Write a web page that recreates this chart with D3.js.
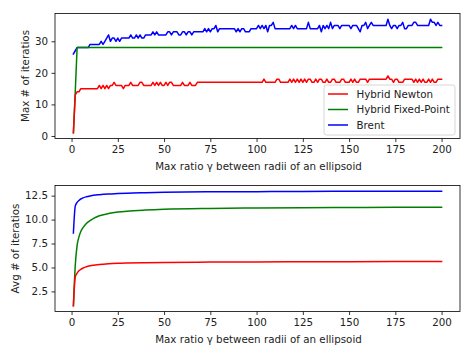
<!DOCTYPE html>
<html>
<head>
<meta charset="utf-8">
<script src="https://cdn.jsdelivr.net/npm/d3@7"></script>
<style>
html,body{margin:0;padding:0;background:#fff;}
svg{display:block;font-family:"DejaVu Sans",sans-serif;}
</style>
</head>
<body>
<svg id="chart" width="474" height="355"></svg>
<script>
// ---------- DATA ----------
const seriesNames = ["Hybrid Newton", "Hybrid Fixed-Point", "Brent"];
const seriesColors = ["#ff0000", "#008000", "#0000ff"];

// x values (max ratio gamma) for the top panel, 1..200
const gammaAll = d3.range(1, 201);

const newtonMax = [
  1,13,14,14,15,15,15,15,15,15,
  15,15,15,15,16,15,16,15,16,15,
  16,16,17,16,16,16,16,15,16,16,
  16,17,16,16,16,16,17,17,16,16,
  16,16,16,17,16,17,16,17,16,16,
  17,16,17,17,16,16,16,16,16,17,
  16,16,16,17,16,16,16,17,17,17,
  17,17,17,17,17,17,17,17,17,17,
  17,17,17,17,17,17,17,17,17,17,
  17,17,17,17,17,17,17,17,17,17,
  17,17,17,18,17,17,17,17,17,17,
  18,18,17,17,17,17,17,18,17,18,
  17,18,17,18,17,18,17,18,18,17,
  17,18,17,18,18,17,17,18,17,17,
  18,18,17,17,17,18,18,17,17,17,
  18,17,18,17,17,18,18,18,18,17,
  18,18,18,18,18,18,18,18,18,18,
  19,18,18,17,18,18,17,17,17,18,
  18,18,18,18,17,18,17,18,17,18,
  17,17,18,17,18,17,17,18,18,18
];

const brentMax = [
  26,27,28,28,28,28,28,28,28,29,
  29,29,29,29,29,30,29,30,31,32,
  30,31,31,30,31,30,31,31,31,31,
  31,32,31,31,32,31,32,31,31,32,
  32,32,32,33,32,33,32,32,32,32,
  32,33,33,32,33,33,33,32,32,33,
  33,32,33,33,32,33,33,33,33,33,
  33,34,33,34,33,34,34,35,33,34,
  34,34,34,34,34,34,34,34,33,34,
  33,34,34,33,33,33,34,34,34,34,
  35,34,35,34,35,33,35,35,36,34,
  34,34,34,34,34,34,34,34,35,34,
  35,34,34,34,34,34,34,36,34,34,
  34,34,34,35,33,35,34,35,34,36,
  34,35,35,35,34,35,35,35,35,35,
  34,35,35,35,34,33,35,35,36,34,
  35,36,35,35,35,35,35,35,35,35,
  37,35,34,35,35,34,35,35,36,34,
  34,35,35,35,36,36,35,35,35,35,
  35,35,35,37,36,36,35,36,35,35
];

// Fixed-point max is a flat line after gamma=3: vertices only
const fixedGamma = [1, 2, 3, 200];
const fixedMax = [1, 14, 28, 28];

// bottom panel: averages read at selected gamma values
const avgGamma = [1,2,3,4,5,6,8,10,15,20,25,30,40,50,75,100,125,150,175,200];
const newtonAvg = [1.0,4.0,4.4,4.65,4.8,4.92,5.07,5.17,5.3,5.38,5.43,5.46,5.5,5.53,5.56,5.58,5.59,5.6,5.61,5.62];
const fixedAvg  = [1.0,5.2,7.3,8.2,8.75,9.1,9.6,9.9,10.4,10.63,10.78,10.88,11.0,11.08,11.17,11.21,11.24,11.26,11.28,11.29];
const brentAvg  = [8.6,11.4,11.8,12.0,12.15,12.25,12.38,12.47,12.6,12.68,12.72,12.76,12.81,12.85,12.9,12.92,12.94,12.95,12.96,12.97];

const xTicks = [0,25,50,75,100,125,150,175,200];
const yTicksTop = [0,10,20,30];
const yTicksBottom = [2.5,5.0,7.5,10.0,12.5];

const xLabel = "Max ratio \u03b3 between radii of an ellipsoid";
const yLabelTop = "Max # of iteratios";
const yLabelBottom = "Avg # of iteratios";

// ---------- DRAW ----------
const svg = d3.select("#chart");
const FS = 10.3;
const TXT = "#222";
const L = 55, R = 460;

const x = d3.scaleLinear().domain([-8.95, 209.95]).range([L, R]);

function panel(pTop, pBottom, yDomain, yTicks, yFmt, lines, yLabel, yLabelX) {
  const g = svg.append("g");
  const y = d3.scaleLinear().domain(yDomain).range([pBottom, pTop]);

  const clipId = "clip" + Math.round(pTop);
  svg.append("clipPath").attr("id", clipId)
    .append("rect").attr("x", L).attr("y", pTop).attr("width", R - L).attr("height", pBottom - pTop);

  const lg = g.append("g").attr("clip-path", `url(#${clipId})`);
  lines.forEach(s => {
    const pts = s.xs.map((xv, i) => [xv, s.ys[i]]);
    lg.append("path")
      .attr("d", d3.line().x(d => x(d[0])).y(d => y(d[1])).curve(s.curve || d3.curveLinear)(pts))
      .attr("fill", "none")
      .attr("stroke", s.color)
      .attr("stroke-width", 1.5)
      .attr("stroke-linejoin", "round")
      .attr("stroke-linecap", "square");
  });

  // frame
  g.append("rect").attr("x", L).attr("y", pTop).attr("width", R - L).attr("height", pBottom - pTop)
    .attr("fill", "none").attr("stroke", "#000").attr("stroke-width", 0.8);

  const xa = g.append("g").attr("transform", `translate(0,${pBottom})`)
    .call(d3.axisBottom(x).tickValues(xTicks).tickSize(3.5).tickPadding(4).tickFormat(d3.format("d")));
  const ya = g.append("g").attr("transform", `translate(${L},0)`)
    .call(d3.axisLeft(y).tickValues(yTicks).tickSize(3.5).tickPadding(3.5).tickFormat(yFmt));
  [xa, ya].forEach(a => {
    a.select(".domain").remove();
    a.selectAll("line").attr("stroke", "#000").attr("stroke-width", 0.8);
    a.selectAll("text").attr("fill", TXT).style("font-size", FS + "px").style("font-family", "DejaVu Sans");
  });

  g.append("text").attr("x", (L + R) / 2 + 1).attr("y", pBottom + 31)
    .attr("text-anchor", "middle").attr("fill", TXT).style("font-size", FS + "px")
    .text(xLabel);
  g.append("text")
    .attr("transform", `translate(${yLabelX},${(pTop + pBottom) / 2}) rotate(-90)`)
    .attr("text-anchor", "middle").attr("fill", TXT).style("font-size", FS + "px")
    .text(yLabel);
  return {g, y};
}

// top panel (draw order: Brent, Fixed-Point, Newton)
const topPanel = panel(13.5, 138.5, [-0.8, 38.8], yTicksTop, d3.format("d"), [
  {xs: gammaAll, ys: brentMax, color: seriesColors[2]},
  {xs: fixedGamma, ys: fixedMax, color: seriesColors[1]},
  {xs: gammaAll, ys: newtonMax, color: seriesColors[0]}
], yLabelTop, 28.5);

// legend
const leg = topPanel.g.append("g");
leg.append("rect").attr("x", 324).attr("y", 85).attr("width", 131).attr("height", 50)
  .attr("rx", 2.5).attr("fill", "#fff").attr("fill-opacity", 0.8)
  .attr("stroke", "#cccccc").attr("stroke-width", 0.8);
const rowY = [94, 109.5, 125];
seriesNames.forEach((n, i) => {
  leg.append("line").attr("x1", 328).attr("x2", 348).attr("y1", rowY[i]).attr("y2", rowY[i])
    .attr("stroke", seriesColors[i]).attr("stroke-width", 1.5);
  leg.append("text").attr("x", 356.5).attr("y", rowY[i]).attr("dy", "0.36em")
    .attr("fill", TXT).style("font-size", FS + "px").text(n);
});

// bottom panel
panel(185.5, 311.5, [0.4, 13.56], yTicksBottom, d3.format(".1f"), [
  {xs: avgGamma, ys: brentAvg, color: seriesColors[2], curve: d3.curveMonotoneX},
  {xs: avgGamma, ys: fixedAvg, color: seriesColors[1], curve: d3.curveMonotoneX},
  {xs: avgGamma, ys: newtonAvg, color: seriesColors[0], curve: d3.curveMonotoneX}
], yLabelBottom, 18.5);
</script>
</body>
</html>
